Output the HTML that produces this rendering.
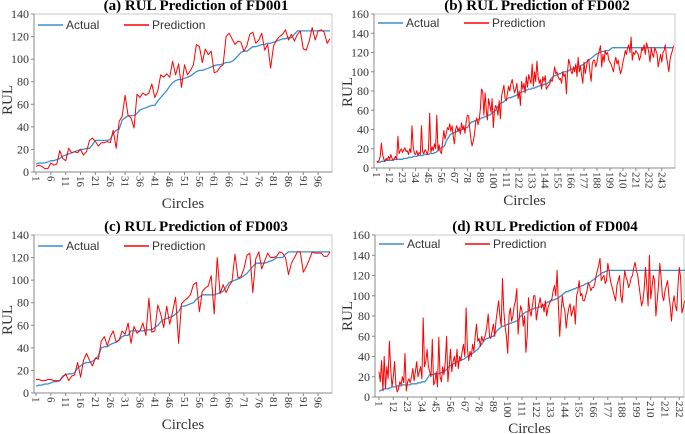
<!DOCTYPE html>
<html><head><meta charset="utf-8">
<style>
html,body{margin:0;padding:0;background:#fff;}
svg{display:block;}
.tt{font-family:"Liberation Serif",serif;font-weight:bold;font-size:15px;}
.tk{font-family:"Liberation Serif",serif;font-size:12px;fill:#333;}
.xt{font-family:"Liberation Serif",serif;font-size:11px;fill:#333;}
.ax{font-family:"Liberation Serif",serif;font-size:15px;fill:#333;}
.lg{font-family:"Liberation Sans",sans-serif;font-size:12px;fill:#333;}
</style></head>
<body>
<svg id="chart" width="685" height="434" viewBox="0 0 685 434"></svg>
<script>
// ---------- DATA ----------
const actualA=[7,8,8,8,9,10,10,11,12,14,15,16,17,18,19,20,20,21,21,24,28,28,28,28,28,29,34,37,38,46,48,50,50,50,52,55,56,57,58,59,59,63,66,69,72,76,79,81,82,82,83,84,85,87,89,90,90,91,92,93,94,95,95,96,97,97,98,100,103,106,107,107,109,111,111,112,113,113,114,114,115,116,117,118,118,119,119,122,125,125,125,125,125,125,125,125,125,125,125,125];
const predA=[5,6,5,3,3,8,6,7,19,12,10,21,17,18,17,20,15,18,28,30,27,23,26,26,27,26,37,21,45,49,68,50,48,39,69,66,70,68,70,78,66,72,86,84,87,84,98,86,96,75,95,86,90,95,113,111,97,109,104,107,88,89,93,95,120,123,118,113,116,115,107,112,122,124,114,117,123,108,113,92,112,117,120,122,126,117,122,116,122,125,109,108,116,128,117,125,126,124,114,118];
const actualB=[6,6,6,6,7,7,7,7,8,8,8,8,8,8,8,9,9,9,9,9,9,9,9,10,10,10,10,11,11,11,11,12,12,12,12,13,13,13,13,13,14,14,14,14,14,15,15,15,15,16,16,17,18,19,20,21,22,22,24,28,30,32,34,35,36,36,37,37,38,38,39,39,40,40,41,41,42,42,44,46,47,48,48,49,49,50,50,51,51,52,52,53,53,54,54,55,55,56,57,58,59,60,62,64,66,67,68,68,69,70,71,72,73,73,73,74,74,75,75,76,77,78,78,79,79,80,80,81,81,82,82,82,83,83,83,84,84,85,85,86,86,86,87,87,87,88,89,91,93,94,95,96,96,97,97,98,98,99,99,100,100,100,101,101,102,102,103,103,104,104,105,105,106,106,107,107,108,109,110,111,112,113,114,115,116,117,118,119,119,120,120,121,121,121,122,122,122,122,123,124,125,125,125,125,125,125,125,125,125,125,125,125,125,125,125,125,125,125,125,125,125,125,125,125,125,125,125,125,125,125,125,125,125,125,125,125,125,125,125,125,125,125,125,125,125,125,125,125,125,125,125,125,125];
const predB=[7,6,8,12,26,14,9,7,10,8,12,9,14,10,8,10,12,9,33,15,18,20,16,19,21,17,18,14,20,16,44,22,15,14,18,13,16,14,44,17,15,19,17,14,20,57,16,22,18,25,20,55,18,24,17,15,28,39,30,36,42,40,46,38,44,33,25,40,44,38,42,35,47,40,44,36,48,55,54,40,30,23,28,35,48,52,45,50,62,82,80,55,78,60,50,72,65,58,72,42,60,65,62,55,70,51,75,80,86,72,70,78,85,80,88,92,85,78,82,88,72,80,65,90,82,88,78,95,84,97,92,88,108,85,100,90,111,95,88,92,82,95,90,96,82,84,86,88,92,90,96,105,98,100,95,92,93,88,100,95,98,77,100,113,108,100,98,105,100,108,95,115,100,106,96,88,110,98,105,112,113,100,90,108,112,112,105,110,118,122,127,105,118,110,122,118,120,112,110,108,104,100,110,115,108,112,104,98,102,110,115,122,118,125,128,120,136,112,120,118,122,120,118,112,116,125,122,128,118,130,126,120,110,125,118,115,125,122,118,105,112,118,110,120,122,128,115,108,100,112,118,122,127];
const actualC=[6,7,7,8,8,9,10,10,11,15,16,17,17,18,22,24,26,27,27,28,30,33,40,41,41,43,44,45,47,50,51,51,55,55,55,55,55,56,56,56,58,60,63,65,66,67,68,70,72,77,77,78,79,80,83,85,87,87,87,87,87,88,89,90,94,98,99,100,101,102,104,106,109,112,115,115,115,115,116,117,118,120,120,120,123,125,125,125,125,125,125,125,125,125,125,125,125,125,125,125];
const predC=[12,12,11,11,12,12,11,11,11,14,17,11,15,16,27,14,29,35,29,24,31,30,46,50,42,50,55,45,47,55,52,62,44,59,53,55,62,51,84,54,55,78,70,58,77,61,72,85,44,79,82,84,87,96,98,72,90,93,95,104,70,120,88,96,89,95,99,123,102,103,110,122,124,89,119,125,110,117,124,120,120,121,125,124,120,105,115,120,125,125,107,112,118,125,124,124,124,121,121,125];
const actualD=[6,6,7,7,8,8,8,8,9,9,10,10,10,10,11,11,11,11,12,12,12,12,12,12,12,13,13,13,13,13,14,14,14,15,15,15,16,18,20,22,22,22,22,23,23,23,23,24,24,24,25,26,27,29,30,31,32,33,33,34,35,35,36,36,37,37,38,39,40,41,42,43,43,44,45,46,47,49,51,52,54,56,57,58,58,59,59,60,60,62,64,66,67,68,69,70,70,71,71,72,72,73,73,74,74,75,75,76,78,80,81,82,83,84,84,85,86,86,87,87,88,88,88,89,89,90,90,91,92,93,94,94,95,95,96,96,97,97,98,99,100,101,102,103,104,104,105,105,106,106,107,107,108,108,109,109,110,110,111,112,112,113,113,114,115,116,117,118,119,120,121,122,123,123,124,124,125,125,125,125,125,125,125,125,125,125,125,125,125,125,125,125,125,125,125,125,125,125,125,125,125,125,125,125,125,125,125,125,125,125,125,125,125,125,125,125,125,125,125,125,125,125,125,125,125,125,125,125,125,125,125,125,125,125,125,125,125,125,125,125];
const predD=[25,15,36,6,40,8,30,18,55,28,10,20,35,12,5,8,15,12,20,14,43,6,15,18,14,20,28,16,25,35,20,25,30,18,78,30,35,47,30,25,20,57,12,15,25,10,59,20,15,30,22,35,60,15,30,47,25,35,40,30,47,28,40,36,45,52,40,88,48,36,45,40,52,45,60,72,55,58,50,60,55,58,62,70,82,60,58,65,72,60,75,85,95,80,70,117,85,70,60,43,80,88,75,80,90,95,107,62,80,90,85,70,80,44,60,98,85,80,90,100,100,76,85,92,98,88,92,84,95,80,88,92,95,97,105,110,100,125,90,60,82,100,90,85,68,80,88,92,80,85,90,72,100,105,115,100,102,95,95,100,105,113,110,105,108,108,112,120,125,130,137,115,118,120,112,115,132,125,115,110,105,100,95,110,115,120,100,93,110,125,118,115,108,112,118,120,128,133,125,120,110,100,90,95,107,128,110,90,140,97,108,120,115,80,95,110,132,118,100,95,105,110,115,100,90,75,92,100,90,85,110,128,118,83,88,95];
const yTicksA=[0,20,40,60,80,100,120,140];
const yTicksB=[0,20,40,60,80,100,120,140,160];
const titles=["(a) RUL Prediction of FD001","(b) RUL Prediction of FD002","(c) RUL Prediction of FD003","(d) RUL Prediction of FD004"];

// ---------- DRAW ----------
const NS="http://www.w3.org/2000/svg";
const svg=document.getElementById('chart');
function mk(tag,attrs,parent,text){const e=document.createElementNS(NS,tag);for(const k in attrs)e.setAttribute(k,attrs[k]);if(text!==undefined)e.textContent=text;(parent||svg).appendChild(e);return e;}

const panels=[
 {id:'a',act:actualA,pred:predA,yt:yTicksA,ymax:140,L:34,R:332,T:14,B:172,x0:36,dx:2.97,step:5,title:titles[0],tx:196,ty:10,ly:25,cy:208,ry:100,rx:12},
 {id:'b',act:actualB,pred:predB,yt:yTicksB,ymax:160,L:374,R:675,T:14,B:168,x0:376.7,dx:1.178,step:11,title:titles[1],tx:537,ty:10,ly:23,cy:205,ry:92,rx:352},
 {id:'c',act:actualC,pred:predC,yt:yTicksA,ymax:140,L:34,R:332,T:235,B:393,x0:36,dx:2.97,step:5,title:titles[2],tx:196,ty:231,ly:246,cy:429,ry:320,rx:12},
 {id:'d',act:actualD,pred:predD,yt:yTicksB,ymax:160,L:375,R:684,T:235,B:397,x0:379,dx:1.30,step:11,title:titles[3],tx:545,ty:231,ly:244,cy:433,ry:316,rx:352}
];

panels.forEach(p=>{
  const g=mk('g',{},svg);
  
  
  const xs=i=>p.x0+i*p.dx;
  const ys=v=>p.B-(v/p.ymax)*(p.B-p.T);
  const clipId='clip'+p.id;
  const cp=mk('clipPath',{id:clipId},g);mk('rect',{x:p.L,y:p.T-2,width:p.R-p.L+1,height:p.B-p.T+4},cp);
  const frame=mk('rect',{x:p.L,y:p.T,width:p.R-p.L,height:p.B-p.T,fill:'none',stroke:'#c8c8c8','stroke-width':1},g);
  
  
  mk('line',{x1:p.L,y1:p.T,x2:p.L,y2:p.B,stroke:'#888'},g);
  mk('line',{x1:p.L,y1:p.B,x2:p.R,y2:p.B,stroke:'#888'},g);
  p.yt.forEach(v=>{
    const t=mk('text',{x:p.L-5,y:ys(v)+4,'text-anchor':'end',class:'tk'},g,String(v));
    
    
    mk('line',{x1:p.L-3,y1:ys(v),x2:p.L,y2:ys(v),stroke:'#888'},g);
  });
  for(let i=0;i<p.act.length;i+=p.step){
    const x=xs(i);
    mk('line',{x1:x,y1:p.B,x2:x,y2:p.B+3,stroke:'#888'},g);
    const t=mk('text',{x:x-3.5,y:p.B+4,class:'xt',transform:'rotate(90 '+(x-3.5)+' '+(p.B+4)+')','text-anchor':'start'},g,String(i+1));
    
    
  }
  const line=(arr,color,w,name)=>{
    const d=arr.map((v,i)=>(i?'L':'M')+xs(i).toFixed(1)+' '+ys(v).toFixed(1)).join(' ');
    const e=mk('path',{d:d,fill:'none',stroke:color,'stroke-width':w,'clip-path':'url(#'+clipId+')','stroke-linejoin':'round'},g);
    
    
  };
  line(p.act,'#3a8fd0',1.3,'actual-line-'+p.id);
  line(p.pred,'#ff0000',1,'prediction-line-'+p.id);
  const t=mk('text',{x:p.tx,y:p.ty,'text-anchor':'middle',class:'tt'},g,p.title);
  
  
  const lx=p.L+4;
  const l1=mk('g',{},g);
  
  
  mk('line',{x1:lx,y1:p.ly,x2:lx+25,y2:p.ly,stroke:'#3a8fd0','stroke-width':1.5},l1);
  mk('text',{x:lx+28,y:p.ly+4,class:'lg'},l1,'Actual');
  const l2=mk('g',{},g);
  
  
  mk('line',{x1:lx+86,y1:p.ly,x2:lx+111,y2:p.ly,stroke:'#ff0000','stroke-width':1.5},l2);
  mk('text',{x:lx+114,y:p.ly+4,class:'lg'},l2,'Prediction');
  const cx=mk('text',{x:(p.L+p.R)/2,y:p.cy,'text-anchor':'middle',class:'ax'},g,'Circles');
  
  
  const ry=mk('text',{x:p.rx,y:p.ry,'text-anchor':'middle',class:'ax',transform:'rotate(-90 '+p.rx+' '+p.ry+')'},g,'RUL');
  
  
});
</script>
</body></html>
